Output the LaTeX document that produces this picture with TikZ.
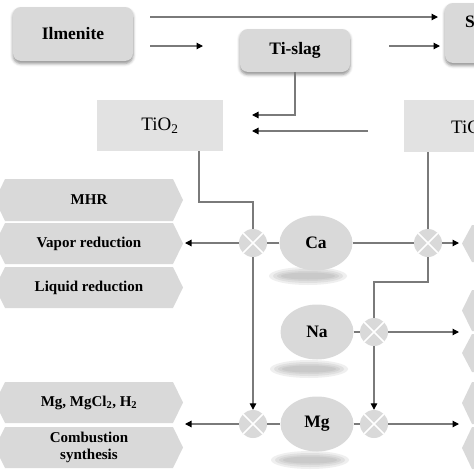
\documentclass[tikz,border=0pt]{standalone}
\usepackage{fontspec}
\setmainfont{Liberation Serif}
\usetikzlibrary{arrows.meta,shapes.geometric,shadows.blur}
\definecolor{boxg}{HTML}{D9D9D9}
\definecolor{lineg}{HTML}{7A7A7A}
\definecolor{recg}{HTML}{E2E2E2}
\newcommand\mainfs{\fontsize{17.5}{20}\selectfont\bfseries}
\newcommand\oxfs{\fontsize{19}{21}\selectfont}
\newcommand\hexfs{\fontsize{15}{17.5}\selectfont\bfseries}
\newcommand\myhex[4]{% left x, right x, top y, bottom y
  \fill[boxg] (#1,{(#3+#4)/2}) -- ({#1+10},#3) -- ({#2-10},#3) -- (#2,{(#3+#4)/2}) -- ({#2-10},#4) -- ({#1+10},#4) -- cycle;}
\begin{document}
\begin{tikzpicture}[x=1pt,y=-1pt,
  rbox/.style={rounded corners=8pt, fill=boxg, inner sep=0pt, font=\mainfs,
    blur shadow={shadow xshift=0pt, shadow yshift=-2.5pt, shadow blur radius=3pt, shadow opacity=45}},
  sbox/.style={fill=recg, inner sep=0pt},
  cross/.style={circle, fill=boxg, minimum size=28pt, inner sep=0pt},
  metal/.style={ellipse, fill=boxg, minimum width=73pt, minimum height=55pt, inner sep=0pt, font=\mainfs},
  conn/.style={draw=lineg, line width=1.2pt},
  arr/.style={draw=lineg, line width=1.2pt, -{Triangle[length=6.5pt,width=6.5pt,color=black]}},
  hext/.style={font=\hexfs, align=center, inner sep=0pt},
  shd/.style={fill=gray, opacity=0.13}
]
\useasboundingbox (0,0) rectangle (474,474);
\clip (0,0) rectangle (474,474);

% top boxes
\node[rbox, minimum width=120pt, minimum height=54pt] (ilm) at (73,34) {Ilmenite};
\node[rbox, minimum width=110pt, minimum height=43pt] (slag) at (295,50.5) {Ti-slag};
\node[rbox, minimum width=120pt, minimum height=60pt] (sbox) at (505,33) {};
\node[font=\mainfs, anchor=west, inner sep=0pt] (stext) at (465,22) {S};

% oxide / chloride boxes
\node[sbox, minimum width=126pt, minimum height=51pt, font=\oxfs] (tio2) at (160,125.5) {TiO\textsubscript{2}};
\node[sbox, minimum width=126pt, minimum height=52pt] (ticbox) at (467,126) {};
\node[font=\oxfs, anchor=west, inner sep=0pt] (tictext) at (451,127) {TiC};

% top arrows
\coordinate (a1s) at (150,17);  \coordinate (a1e) at (438,17);
\coordinate (a2s) at (150,46);  \coordinate (a2e) at (203,46);
\coordinate (a3s) at (389,46);  \coordinate (a3e) at (440,46);
\draw[arr] (a1s) -- (a1e);
\draw[arr] (a2s) -- (a2e);
\draw[arr] (a3s) -- (a3e);
\coordinate (t1) at (252,115);
\draw[arr] (slag.south) |- (t1);
\coordinate (t2s) at (368,131); \coordinate (t2e) at (252,131);
\draw[arr] (t2s) -- (t2e);

% left hexagons
\myhex{-5}{183}{179}{221}
\myhex{-5}{183}{223}{264}
\myhex{-5}{183}{267}{308}
\myhex{-5}{183}{382}{423}
\myhex{-5}{183}{427}{468}
\node[hext] (h1) at (89,200) {MHR};
\node[hext] (h2) at (89,243.5) {Vapor reduction};
\node[hext] (h3) at (89,287.5) {Liquid reduction};
\node[hext] (h4) at (89,402.5) {Mg, MgCl\textsubscript{2}, H\textsubscript{2}};
\node[hext] (h5) at (89,447.5) {Combustion\\synthesis};

% right hexagons
\myhex{462}{660}{225}{262}
\myhex{462}{660}{290}{331}
\myhex{462}{660}{334}{372}
\myhex{462}{660}{382}{424}
\myhex{462}{660}{427}{469}

% ellipse shadows
\foreach \cx/\cy in {308/276, 309/369, 310/460}{
  \fill[shd] (\cx,\cy) ellipse [x radius=39, y radius=9];
  \fill[shd] (\cx,\cy) ellipse [x radius=35, y radius=7];
  \fill[shd] (\cx,\cy) ellipse [x radius=31, y radius=5];
  \fill[shd] (\cx,\cy) ellipse [x radius=27, y radius=3.5];
}

% metals
\node[metal] (ca) at (316,243) {Ca};
\node[metal] (na) at (317,332) {Na};
\node[metal] (mg) at (317,424) {Mg};

% crosses
\node[cross] (c1) at (253,243) {};
\node[cross] (c2) at (428,243) {};
\node[cross] (c3) at (374,332) {};
\node[cross] (c4) at (253,424) {};
\node[cross] (c5) at (374,424) {};
\foreach \c in {c1,c2,c3,c4,c5}{
  \draw[white, line width=1.6pt] (\c.north west) -- (\c.south east) (\c.north east) -- (\c.south west);
}

% connectors
\coordinate (b1) at (199,202);
\draw[conn] (b1 |- tio2.south) -- (b1) -| (c1.north);
\draw[arr] (c1.south) -- (c4.north);
\coordinate (l1) at (185,243);
\draw[arr] (c1.west) -- (l1);
\draw[conn] (ca.west) -- (c1.east);
\draw[conn] (ca.east) -- (c2.west);
\draw[conn] (c2.north |- ticbox.south) -- (c2.north);
\coordinate (r1) at (459,243);
\draw[arr] (c2.east) -- (r1);
\coordinate (b2) at (374,282);
\draw[conn] (c2.south) |- (b2) -- (c3.north);
\draw[conn] (na.east) -- (c3.west);
\coordinate (r2) at (459,332);
\draw[arr] (c3.east) -- (r2);
\draw[arr] (c3.south) -- (c5.north);
\coordinate (l2) at (185,424);
\draw[arr] (c4.west) -- (l2);
\draw[conn] (c4.east) -- (mg.west);
\draw[conn] (mg.east) -- (c5.west);
\coordinate (r3) at (459,424);
\draw[arr] (c5.east) -- (r3);
\end{tikzpicture}
\end{document}
